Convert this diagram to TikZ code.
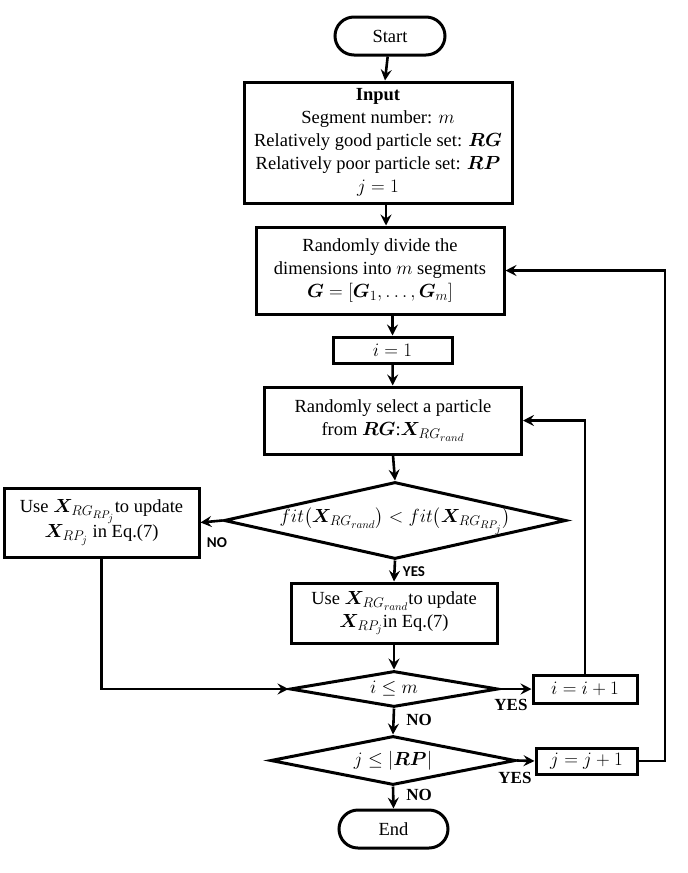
\RequirePackage{fix-cm}
\documentclass[tikz,border=0pt]{standalone}
\usepackage{amsmath,bm}
\usepackage{fontspec}
\setmainfont{Liberation Serif}
\newfontfamily\labsans{Carlito}
\DeclareMathSizes{18.5}{19}{14}{11}
\usetikzlibrary{arrows.meta,shapes.geometric}
\tikzset{
  base/.style={draw, line width=3pt, inner sep=0pt, align=center,
    font=\fontsize{18.5}{23}\selectfont},
  box/.style={base, rectangle},
  term/.style={base, rectangle, rounded corners=19pt},
  dia/.style={draw, line width=3pt, diamond, inner sep=0pt},
  dtext/.style={inner sep=0pt, font=\fontsize{18.5}{23}\selectfont},
  conn/.style={line width=2.6pt, -{Stealth[length=11pt,width=11pt,inset=4pt]}},
  sanslab/.style={inner sep=0pt, font=\labsans\bfseries\fontsize{15}{18}\selectfont},
  seriflab/.style={inner sep=0pt, font=\bfseries\fontsize{17}{20}\selectfont},
}
\begin{document}
\begin{tikzpicture}[x=1pt,y=-1pt]
\useasboundingbox (0,0) rectangle (688,873);
\node[term, minimum width=110pt, minimum height=38pt] (start) at (390,36) {Start};
\node[box, minimum width=268pt, minimum height=121pt] (input) at (378,142.5)
  {\textbf{Input}\\Segment number: $m$\\Relatively good particle set: $\bm{RG}$\\Relatively poor particle set: $\bm{RP}$\\$j=1$};
\node[box, minimum width=248pt, minimum height=87pt] (divide) at (380,270.5)
  {Randomly divide the\\dimensions into $m$ segments\\$\bm{G}=[\bm{G}_1,\ldots,\bm{G}_m]$};
\node[box, minimum width=119pt, minimum height=26pt] (i1) at (392.5,350) {$i=1$};
\node[box, minimum width=257pt, minimum height=67pt] (select) at (393,420.5)
  {Randomly select a particle\\from $\bm{RG}$:$\bm{X}_{RG_{rand}}$};
\node[dia, minimum width=342pt, minimum height=77pt] (fit) at (395,520.5) {};
\node[dtext] (fittext) at (fit.center) {$fit\bigl(\bm{X}_{RG_{rand}}\bigr) < fit\bigl(\bm{X}_{RG_{RP_j}}\bigr)$};
\node[box, minimum width=195pt, minimum height=69pt] (nobox) at (101.5,522.5)
  {Use $\bm{X}_{RG_{RP_j}}$to update\\$\bm{X}_{RP_j}$ in Eq.(7)};
\node[box, minimum width=206pt, minimum height=60pt] (yesbox) at (394,613)
  {Use $\bm{X}_{RG_{rand}}$to update\\$\bm{X}_{RP_j}$in Eq.(7)};
\node[dia, minimum width=208pt, minimum height=36pt] (im) at (394,689) {};
\node[dtext] (imtext) at (im.center) {$i\le m$};
\node[box, minimum width=104pt, minimum height=28pt] (iinc) at (585,689) {$i=i+1$};
\node[dia, minimum width=245pt, minimum height=49pt] (jrp) at (393,760.5) {};
\node[dtext] (jrptext) at (jrp.center) {$j\le|\bm{RP}|$};
\node[box, minimum width=101pt, minimum height=26pt] (jinc) at (586.5,761) {$j=j+1$};
\node[term, minimum width=109pt, minimum height=38pt] (end) at (393.5,829) {End};

\node[sanslab] (lno1) at (217,543) {NO};
\node[sanslab] (lyes1) at (414,572) {YES};
\node[seriflab] (lyes2) at (511,705) {YES};
\node[seriflab] (lno2) at (419,720) {NO};
\node[seriflab] (lyes3) at (515,778) {YES};
\node[seriflab] (lno3) at (419,795) {NO};

\coordinate (outer) at (665,761);

\draw[conn] (start) -- (input);
\draw[conn] (input.south -| 386,0) -- (divide.north -| 386,0);
\draw[conn] (divide.south -| i1.north) -- (i1.north);
\draw[conn] (i1) -- (select);
\draw[conn] (select.south) -- (fit.north);
\draw[conn] (fit.west) -- (nobox.east);
\draw[conn] (fit.south) -- (yesbox.north);
\draw[conn] (yesbox.south) -- (im.north);
\draw[conn] (nobox.south) |- (im.west);
\draw[conn] (im.east) -- (iinc.west);
\draw[conn] (im.south) -- (jrp.north);
\draw[conn] (jrp.east) -- (jinc.west);
\draw[conn] (jrp.south) -- (end.north);
\draw[conn] (iinc.north) |- (select.east);
\draw[conn] (jinc.east) -- (outer) |- (divide.east);
\end{tikzpicture}
\end{document}
